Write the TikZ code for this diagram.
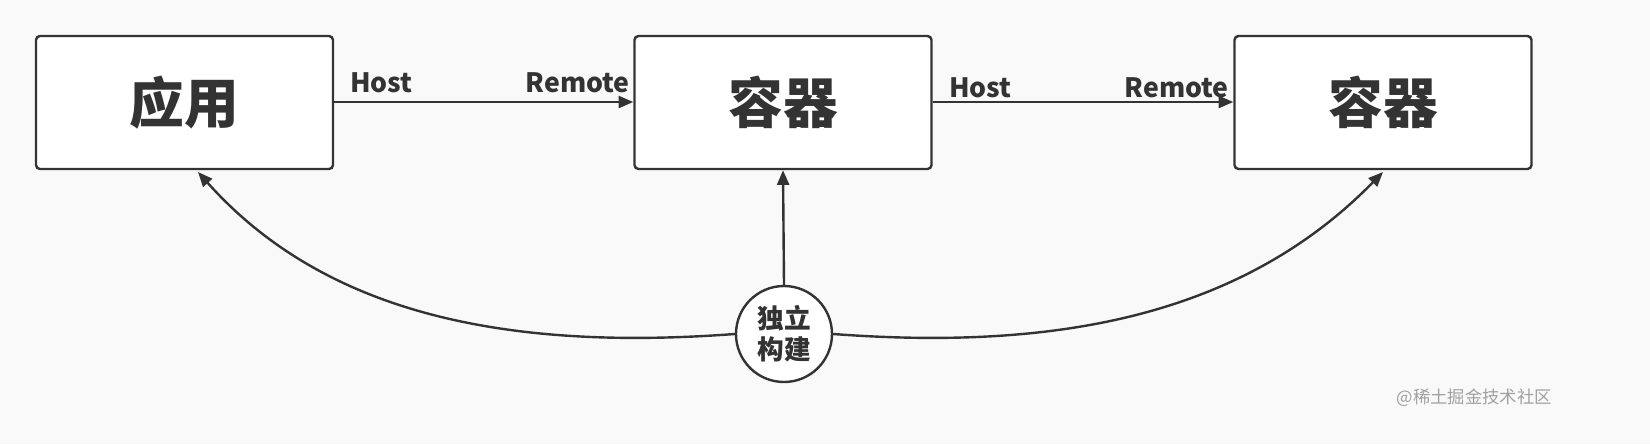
\documentclass[tikz,border=0pt]{standalone}
\usepackage{fontspec}
\setmainfont{Noto Sans CJK SC}
\usetikzlibrary{arrows.meta}
\definecolor{ink}{HTML}{333333}
\tikzset{every picture/.style={line width=1.8pt}}
\tikzset{
  appbox/.style={draw=ink, fill=white, text=ink, rounded corners=3pt, minimum width=222.75pt, minimum height=99.75pt, inner sep=0pt, font=\fontsize{41}{44}\selectfont\bfseries},
  link/.style={draw=ink, -{Triangle[length=11pt,width=9pt]}},
  portlabel/.style={inner sep=0.75pt, text=ink, font=\fontsize{20}{22}\selectfont\bfseries}
}
\begin{document}
\begin{tikzpicture}[x=0.75pt,y=0.75pt,yscale=-1,xscale=1]
%set diagram size
\fill[fill={rgb, 255:red, 249; green, 249; blue, 249}] (0,0) rectangle (1650,444);
\useasboundingbox (0,0) rectangle (1650,444);

%Shape: Boxes
\node[appbox] (app) at (184.5,102.5) {应用};
\node[appbox] (box1) at (783,102.5) {容器};
\node[appbox] (box2) at (1383,102.5) {容器};
%Shape: Circle
\node[circle, draw=ink, fill=white, text=ink, minimum size=72pt, inner sep=0pt, align=center, font=\fontsize{20}{23}\selectfont\bfseries] (build) at (784,334) {独立\\构建};

%Straight Lines
\draw[link] (app.east |- 0,102) -- (box1.west |- 0,102);
\draw[link] (box1.east |- 0,102) -- (box2.west |- 0,102);
\draw[link] (build.north) -- (box1.south);
%Curve Lines
\draw[link] (build.west) .. controls (520,350) and (330,320) .. (198,172);
\draw[link] (build.east) .. controls (1048,350) and (1238,320) .. (1383,172);

% Text Node
\node[portlabel, anchor=south west] (h1) at (348,95) {Host};
\node[portlabel, anchor=south east] (r1) at (632,95) {Remote};
\node[portlabel, anchor=south west] (h2) at (947,100) {Host};
\node[portlabel, anchor=south east] (r2) at (1231,100) {Remote};
\node[anchor=east, inner sep=0pt, text={rgb, 255:red, 160; green, 160; blue, 160}, font=\fontsize{13}{15}\selectfont] (mark) at (1553,398) {@稀土掘金技术社区};
\end{tikzpicture}
\end{document}
